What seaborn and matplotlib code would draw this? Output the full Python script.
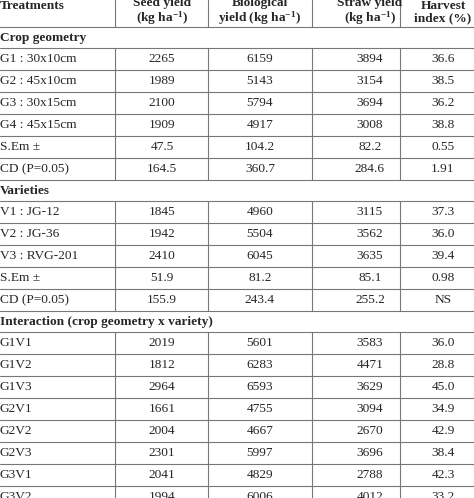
import seaborn as sns
import matplotlib.pyplot as plt

sns.set_style("white")
plt.rcParams['font.family'] = ['Liberation Serif', 'DejaVu Serif']
plt.rcParams['mathtext.default'] = 'regular'

headers = ["Treatments", "Seed yield\n(kg ha$^{-1}$)", "Biological\nyield (kg ha$^{-1}$)",
           "Straw yield\n(kg ha$^{-1}$)", "Harvest\nindex (%)"]

geometry = ["G1 : 30x10cm", "G2 : 45x10cm", "G3 : 30x15cm", "G4 : 45x15cm", "S.Em ±", "CD (P=0.05)"]
geo_seed = ["2265", "1989", "2100", "1909", "47.5", "164.5"]
geo_bio = ["6159", "5143", "5794", "4917", "104.2", "360.7"]
geo_straw = ["3894", "3154", "3694", "3008", "82.2", "284.6"]
geo_hi = ["36.6", "38.5", "36.2", "38.8", "0.55", "1.91"]

varieties = ["V1 : JG-12", "V2 : JG-36", "V3 : RVG-201", "S.Em ±", "CD (P=0.05)"]
var_seed = ["1845", "1942", "2410", "51.9", "155.9"]
var_bio = ["4960", "5504", "6045", "81.2", "243.4"]
var_straw = ["3115", "3562", "3635", "85.1", "255.2"]
var_hi = ["37.3", "36.0", "39.4", "0.98", "NS"]

inter = ["G1V1", "G1V2", "G1V3", "G2V1", "G2V2", "G2V3", "G3V1", "G3V2"]
int_seed = ["2019", "1812", "2964", "1661", "2004", "2301", "2041", "1994"]
int_bio = ["5601", "6283", "6593", "4755", "4667", "5997", "4829", "6006"]
int_straw = ["3583", "4471", "3629", "3094", "2670", "3696", "2788", "4012"]
int_hi = ["36.0", "28.8", "45.0", "34.9", "42.9", "38.4", "42.3", "33.2"]

W, H = 474, 498
col_lines = [115, 208, 312, 400]
col_centers = [162, 260, 370, 443]

fig = plt.figure(figsize=(W / 100, H / 100), dpi=100)
ax = fig.add_axes([0, 0, 1, 1])
ax.set_xlim(0, W)
ax.set_ylim(H, 0)
ax.axis("off")
fs = 9.6

def hline(y):
    ax.plot([0, W], [y, y], color="#777777", lw=0.8)

def vlines(y0, y1):
    for x in col_lines:
        ax.plot([x, x], [y0, y1], color="#777777", lw=0.8)

# header
y = 27
ax.text(0, 0, headers[0], fontsize=fs, fontweight="bold", va="top")
for c, h in zip(col_centers, headers[1:]):
    ax.text(c, 12, h, fontsize=fs, fontweight="bold", ha="center", va="center", linespacing=1.05)
vlines(0, y)
hline(y)

def section(title, names, cols, top, rh=22, th=21):
    ax.text(0, top + th / 2, title, fontsize=fs, fontweight="bold", va="center")
    top += th
    hline(top)
    for i, name in enumerate(names):
        y0 = top + i * rh
        ax.text(0, y0 + rh / 2, name, fontsize=fs, va="center")
        for c, col in zip(col_centers, cols):
            ax.text(c, y0 + rh / 2, col[i], fontsize=fs, ha="center", va="center")
        hline(y0 + rh)
    vlines(top, top + len(names) * rh)
    return top + len(names) * rh

y = section("Crop geometry", geometry, [geo_seed, geo_bio, geo_straw, geo_hi], y)
y = section("Varieties", varieties, [var_seed, var_bio, var_straw, var_hi], y)
y = section("Interaction (crop geometry x variety)", inter, [int_seed, int_bio, int_straw, int_hi], y)

fig.savefig("out.png", dpi=100)
